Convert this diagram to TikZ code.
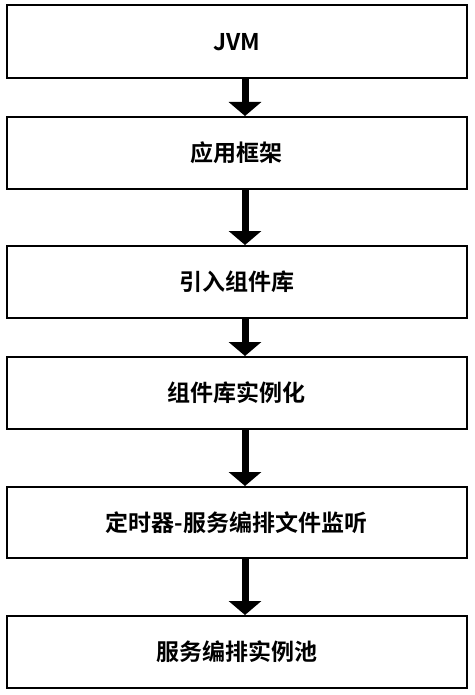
\documentclass[tikz,border=0pt]{standalone}
\usepackage{fontspec}
\setmainfont{Noto Sans CJK SC}[BoldFont={* Bold}]
\newfontfamily\cjk{Noto Sans CJK SC Bold}
\usetikzlibrary{arrows.meta}
\begin{document}
\begin{tikzpicture}[x=1pt,y=1pt,
  stepbox/.style={draw=black, line width=2pt, minimum width=460pt, inner sep=0pt, font=\cjk\fontsize{23}{23}\selectfont},
  flowarrow/.style={line width=7pt, -{Triangle[width=32pt,length=14pt]}}]
\useasboundingbox (0,0) rectangle (474,-695);
\node[stepbox, minimum height=73pt] (b1) at (236.5,-42) {JVM};
\node[stepbox, minimum height=72pt] (b2) at (236.5,-153) {应用框架};
\node[stepbox, minimum height=72pt] (b3) at (236.5,-282) {引入组件库};
\node[stepbox, minimum height=72pt] (b4) at (236.5,-393) {组件库实例化};
\node[stepbox, minimum height=71pt] (b5) at (236.5,-522.5) {定时器-服务编排文件监听};
\node[stepbox, minimum height=72pt] (b6) at (236.5,-652) {服务编排实例池};
\foreach \a/\b in {b1/b2,b2/b3,b3/b4,b4/b5,b5/b6}
  \draw[flowarrow] ([xshift=8.5pt]\a.south) -- ([xshift=8.5pt]\b.north);
\end{tikzpicture}
\end{document}
